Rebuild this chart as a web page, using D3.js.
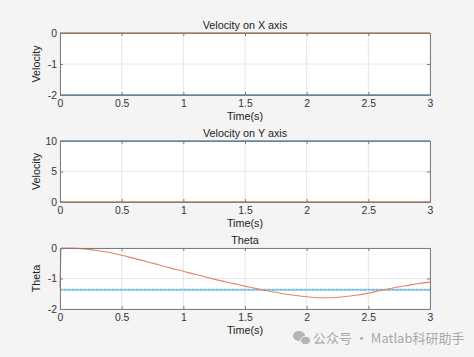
<!DOCTYPE html>
<html><head><meta charset="utf-8">
<script src="https://cdn.jsdelivr.net/npm/d3@7"></script>
<style>
html,body{margin:0;padding:0;background:#f4f4f4;}
svg{display:block;}
</style></head>
<body>
<svg id="chart" width="474" height="357"></svg>
<script>
// ---- data ----
const timeSpan = [0, 3];
const xTicks = [0, 0.5, 1, 1.5, 2, 2.5, 3];
const xTickLabels = ["0", "0.5", "1", "1.5", "2", "2.5", "3"];

// Velocity on X axis
const vxTime = [0, 3];
const vxBlue = [-2, -2];
const vxRed = [0, 0];
const vxTicks = [-2, -1, 0];
const vxTickLabels = ["-2", "-1", "0"];

// Velocity on Y axis
const vyTime = [0, 3];
const vyBlue = [10, 10];
const vyRed = [0, 0];
const vyTicks = [0, 5, 10];
const vyTickLabels = ["0", "5", "10"];

// Theta
const thTime = [0, 0.01, 0.1, 0.2, 0.3, 0.4, 0.5, 0.6, 0.7, 0.8, 0.9, 1.0, 1.1, 1.2, 1.3, 1.4, 1.5,
  1.6, 1.7, 1.8, 1.9, 2.0, 2.1, 2.2, 2.3, 2.4, 2.5, 2.6, 2.7, 2.8, 2.9, 3.0];
const thRed = [-1.30, 0, -0.005, -0.03, -0.08, -0.15, -0.24, -0.34, -0.44, -0.55, -0.66, -0.76, -0.87,
  -0.97, -1.07, -1.16, -1.25, -1.34, -1.42, -1.49, -1.55, -1.60, -1.63, -1.63, -1.60, -1.55, -1.48,
  -1.39, -1.31, -1.24, -1.17, -1.12];
const thRefTime = [0, 3];
const thBlue = [-1.37, -1.37];
const thTicks = [-2, -1, 0];
const thTickLabels = ["-2", "-1", "0"];

const panels = [
  {title: "Velocity on X axis", ylabel: "Velocity", dom: [-2, 0], ticks: vxTicks, labels: vxTickLabels, top: 33, bottom: 95,
   series: [{t: vxTime, v: vxBlue, c: "#5a8fba"}, {t: vxTime, v: vxRed, c: "#d9785a"}]},
  {title: "Velocity on Y axis", ylabel: "Velocity", dom: [0, 10], ticks: vyTicks, labels: vyTickLabels, top: 141, bottom: 202,
   series: [{t: vyTime, v: vyBlue, c: "#5a8fba"}, {t: vyTime, v: vyRed, c: "#d9785a"}]},
  {title: "Theta", ylabel: "Theta", dom: [-2, 0], ticks: thTicks, labels: thTickLabels, top: 248, bottom: 309,
   series: [{t: thRefTime, v: thBlue, c: "#8fcdee", w: 2}, {t: thRefTime, v: thBlue, c: "#5aa6d2", w: 0.8, dash: "2,2"},
            {t: thTime, v: thRed, c: "#e58466", w: 1.1}]}
];

const svg = d3.select("#chart");
const left = 60, right = 430;
const font = "'Liberation Sans', Arial, Helvetica, sans-serif";
const axisColor = "#7d7d7d";

panels.forEach(p => {
  const x = d3.scaleLinear().domain(timeSpan).range([left, right]);
  const y = d3.scaleLinear().domain(p.dom).range([p.bottom, p.top]);
  const g = svg.append("g");
  g.append("rect").attr("x", left).attr("y", p.top).attr("width", right - left).attr("height", p.bottom - p.top).attr("fill", "#fff");
  // grid
  g.append("g").selectAll("line").data(xTicks).join("line")
    .attr("x1", d => x(d)).attr("x2", d => x(d)).attr("y1", p.top).attr("y2", p.bottom)
    .attr("stroke", "#e6e6e6").attr("stroke-width", 1);
  g.append("g").selectAll("line").data(p.ticks).join("line")
    .attr("y1", d => y(d)).attr("y2", d => y(d)).attr("x1", left).attr("x2", right)
    .attr("stroke", "#e6e6e6").attr("stroke-width", 1);
  // lines
  p.series.forEach(s => {
    const pts = s.t.map((t, i) => [t, s.v[i]]);
    g.append("path").datum(pts)
      .attr("d", d3.line().x(d => x(d[0])).y(d => y(d[1])).curve(d3.curveMonotoneX))
      .attr("fill", "none").attr("stroke", s.c).attr("stroke-width", s.w || 1.5)
      .attr("stroke-dasharray", s.dash || null);
  });
  // axes
  const ax = d3.axisBottom(x).tickValues(xTicks).tickFormat((d, i) => xTickLabels[i]).tickSizeInner(-3).tickSizeOuter(0).tickPadding(6);
  const axg = g.append("g").attr("transform", `translate(0,${p.bottom})`).call(ax);
  const axt = g.append("g").attr("transform", `translate(0,${p.top})`).call(d3.axisTop(x).tickValues(xTicks).tickFormat("").tickSizeInner(-3).tickSizeOuter(0));
  const ay = d3.axisLeft(y).tickValues(p.ticks).tickFormat((d, i) => p.labels[i]).tickSizeInner(-3).tickSizeOuter(0).tickPadding(6);
  const ayg = g.append("g").attr("transform", `translate(${left},0)`).call(ay);
  const ayr = g.append("g").attr("transform", `translate(${right},0)`).call(d3.axisRight(y).tickValues(p.ticks).tickFormat("").tickSizeInner(-3).tickSizeOuter(0));
  [axg, axt, ayg, ayr].forEach(a => {
    a.select(".domain").attr("stroke", axisColor);
    a.selectAll(".tick line").attr("stroke", axisColor);
    a.selectAll("text").attr("fill", "#333").style("font-family", font).style("font-size", "10.4px");
  });
  axg.selectAll("text").attr("dy", "0.71em").attr("y", 5);
  ayg.selectAll("text").attr("x", -3);
  // title
  g.append("text").attr("x", (left + right) / 2).attr("y", p.top - 4).attr("text-anchor", "middle")
    .style("font-family", font).style("font-size", "10.8px").attr("fill", "#222").text(p.title);
  g.append("text").attr("x", (left + right) / 2).attr("y", p.bottom + 25).attr("text-anchor", "middle")
    .style("font-family", font).style("font-size", "10.8px").attr("fill", "#222").text("Time(s)");
  g.append("text").attr("transform", `translate(40,${(p.top + p.bottom) / 2}) rotate(-90)`).attr("text-anchor", "middle")
    .style("font-family", font).style("font-size", "10.8px").attr("fill", "#222").text(p.ylabel);
});

// watermark
const wm = svg.append("g").attr("fill", "#b4b4b4");
wm.append("ellipse").attr("cx", 299).attr("cy", 336).attr("rx", 6).attr("ry", 5);
wm.append("ellipse").attr("cx", 305.5).attr("cy", 340.5).attr("rx", 5).attr("ry", 4.2).attr("stroke", "#f4f4f4").attr("stroke-width", 1);
wm.append("text").attr("x", 313).attr("y", 343).style("font-family", "'Noto Sans CJK SC', 'Noto Sans', sans-serif")
  .style("font-size", "13px").attr("fill", "#a8a8a8").text("公众号 · Matlab科研助手");
</script>
</body></html>
